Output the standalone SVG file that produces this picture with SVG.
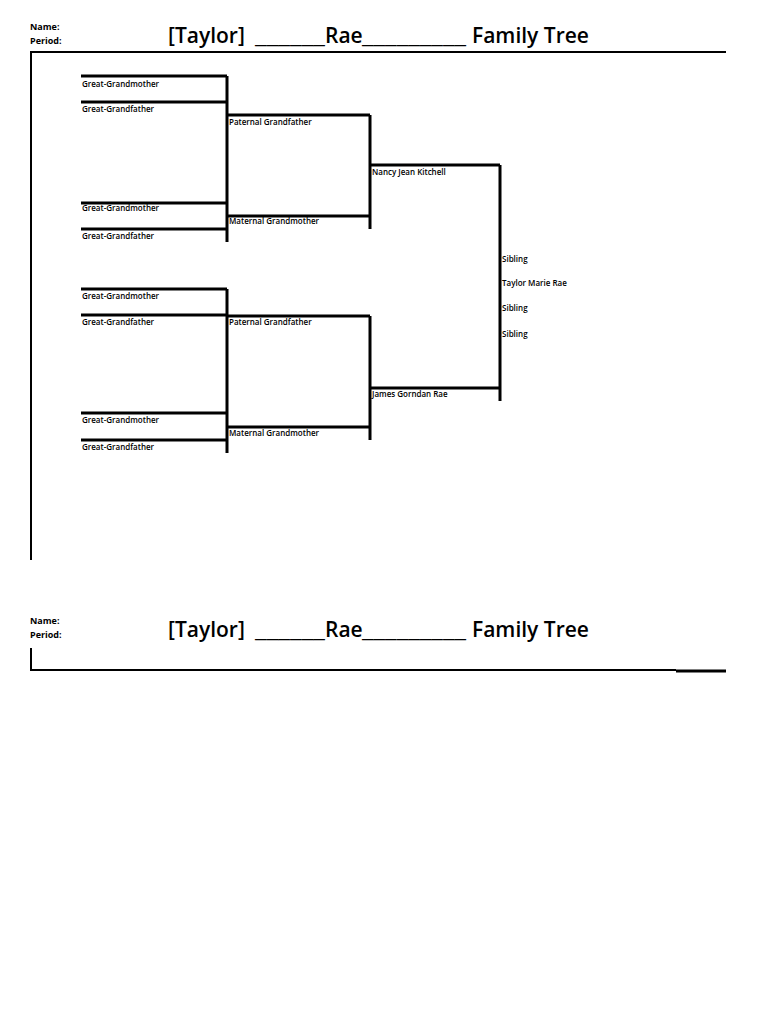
<svg xmlns="http://www.w3.org/2000/svg" width="768" height="1024" viewBox="0 0 768 1024">
<style>
.l{stroke:#000;stroke-width:2;fill:none}
.t{stroke:#000;stroke-width:3;fill:none}
.s{font-family:"Open Sans","Noto Sans",sans-serif;font-size:8px;font-weight:600;fill:#000}
.h{font-family:"Open Sans","Noto Sans",sans-serif;font-size:9px;font-weight:700;fill:#000}
.ti{font-family:"Open Sans","Noto Sans",sans-serif;font-size:21px;font-weight:600;fill:#000}
</style>
<rect width="768" height="1024" fill="#fff"/>
<g id="header1">
<text class="h" x="30" y="30">Name:</text>
<text class="h" x="30" y="44">Period:</text>
<text class="ti" y="43"><tspan x="168">[Taylor]</tspan><tspan x="255" textLength="70" lengthAdjust="spacingAndGlyphs">______</tspan><tspan x="325">Rae</tspan><tspan x="362" textLength="104" lengthAdjust="spacingAndGlyphs">_________</tspan><tspan x="472">Family Tree</tspan></text>
</g>
<g id="connectors">
<path class="l" d="M30 52H726M31 52V560"/>
<path class="t" d="M81 76H227M81 102H227M227 76V242M227 115H370M81 203H227M81 229H227M227 216H370M370 115V229M370 165H500M500 165V401M370 388H500"/>
<path class="t" d="M81 289H227M81 315H227M227 289V453M227 316H370M81 413H227M81 440H227M227 427H370M370 316V440"/>
<path class="l" d="M31 648V670H676"/>
<path class="t" d="M676 671H726"/>
</g>
<g id="labels">
<text class="s" x="82" y="87">Great-Grandmother</text>
<text class="s" x="82" y="112">Great-Grandfather</text>
<text class="s" x="229" y="125">Paternal Grandfather</text>
<text class="s" x="82" y="211">Great-Grandmother</text>
<text class="s" x="82" y="239">Great-Grandfather</text>
<text class="s" x="229" y="224">Maternal Grandmother</text>
<text class="s" x="372" y="175">Nancy Jean Kitchell</text>
<text class="s" x="82" y="299">Great-Grandmother</text>
<text class="s" x="82" y="325">Great-Grandfather</text>
<text class="s" x="229" y="325">Paternal Grandfather</text>
<text class="s" x="82" y="423">Great-Grandmother</text>
<text class="s" x="82" y="450">Great-Grandfather</text>
<text class="s" x="229" y="436">Maternal Grandmother</text>
<text class="s" x="372" y="397">James Gorndan Rae</text>
<text class="s" x="502" y="262">Sibling</text>
<text class="s" x="502" y="286">Taylor Marie Rae</text>
<text class="s" x="502" y="311">Sibling</text>
<text class="s" x="502" y="337">Sibling</text>
</g>
<g id="header2">
<text class="h" x="30" y="624" font-size="8">Name:</text>
<text class="h" x="30" y="638" font-size="8">Period:</text>
<text class="ti" y="637"><tspan x="168">[Taylor]</tspan><tspan x="255" textLength="70" lengthAdjust="spacingAndGlyphs">______</tspan><tspan x="325">Rae</tspan><tspan x="362" textLength="104" lengthAdjust="spacingAndGlyphs">_________</tspan><tspan x="472">Family Tree</tspan></text>
</g>
</svg>
